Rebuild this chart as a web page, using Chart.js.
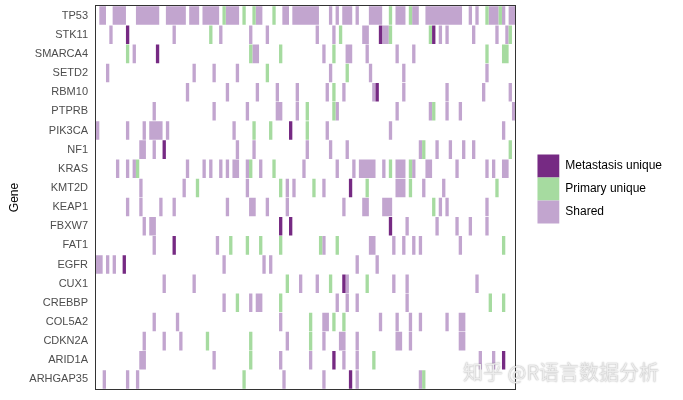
<!DOCTYPE html>
<html>
<head>
<meta charset="utf-8">
<script src="https://cdn.jsdelivr.net/npm/chart.js@4.4.0/dist/chart.umd.min.js"></script>
<style>
body { margin: 0; background: #fff; }
#wrap { width: 683px; height: 400px; }
</style>
</head>
<body>
<div id="wrap"><canvas id="oncoprint"></canvas></div>
<script>
// genes, top to bottom
var genes = ["TP53", "STK11", "SMARCA4", "SETD2", "RBM10", "PTPRB", "PIK3CA", "NF1", "KRAS", "KMT2D",
    "KEAP1", "FBXW7", "FAT1", "EGFR", "CUX1", "CREBBP", "COL5A2", "CDKN2A", "ARID1A", "ARHGAP35"];
var nSamples = 126;

// sample columns (0..125) per gene, one list for each alteration type
var sharedCols = [
    [1,2,5,6,7,8,12,13,14,15,16,17,18,21,22,23,24,25,26,28,29,30,32,33,34,35,36,39,40,41,42,48,49,56,57,
     59,60,61,62,63,64,65,66,70,72,74,75,76,78,82,83,84,85,90,91,92,95,96,99,100,101,102,103,104,105,106,
     107,108,109,112,114,118,119,120,122,124,125],
    [4,23,37,46,51,66,71,80,81,86,87,103,105,113,120,123],
    [11,47,48,68,75,76,81,90,95],
    [3,29,35,42,70,82,92,117],
    [27,39,48,54,60,69,74,83,92,105,116,124],
    [17,35,45,54,55,60,72,90,100,105,109,125],
    [0,9,14,16,17,18,19,21,41,69,88,122],
    [13,14,17,42,47,63,70,75,97,102,106,110,113],
    [6,9,11,27,32,34,37,39,41,42,45,49,62,72,77,79,80,81,82,83,86,90,91,92,95,99,100,108,117,119,122,123],
    [13,26,45,57,59,68,90,91,92,98,104],
    [9,13,19,23,39,46,47,51,57,74,80,81,86,87,88,103,105,117],
    [14,16,17,93,102,108,112,117],
    [17,36,68,82,83,89,92,95,97,109],
    [0,1,3,5,38,50,52,78,84],
    [20,29,61,66,75,89,93,114],
    [38,46,48,49,72,75,78,93],
    [17,24,55,68,69,85,90,94,97,105,109,110],
    [14,20,25,57,68,73,74,78,90,91,94,109,110],
    [13,14,35,55,64,74,78,115,119],
    [2,9,12,56,68,78,97]
];
var primaryCols = [
    [38,44,47,53,88,94,117,121],
    [34,73,88,100,124],
    [9,46,55,71,117,122,123],
    [51,75],
    [71],
    [63,71,101],
    [47,52,63],
    [98,124],
    [12,46,53,88,94],
    [30,55,65,81,94,120],
    [101],
    [],
    [40,45,49,55,67,72,122],
    [],
    [57,70,81],
    [42,55,118,122],
    [64,71,74],
    [33,46,64],
    [46,83],
    [44,98]
];
var metaCols = [
    [], [9,85,101], [18], [], [84], [], [58], [20], [], [76],
    [], [55,58,88], [23], [8], [74], [], [], [], [71,122], [76]
];

var typeLabels = ["Metastasis unique", "Primary unique", "Shared"];
var typeColors = ["#762A83", "#A6DBA0", "#C2A5CF"];

// merge neighbouring columns into [start, end] runs
function toRuns(cols) {
    var runs = [];
    cols.forEach(function (c) {
        var last = runs[runs.length - 1];
        if (last && last[1] === c) last[1] = c + 1;
        else runs.push([c, c + 1]);
    });
    return runs;
}

var datasets = [];
[metaCols, primaryCols, sharedCols].forEach(function (lists, t) {
    var runs = lists.map(toRuns);
    var depth = Math.max.apply(null, runs.map(function (r) { return r.length; }));
    for (var k = 0; k < depth; k++) {
        datasets.push({
            label: typeLabels[t],
            data: runs.map(function (r) { return r[k] || null; }),
            backgroundColor: typeColors[t],
            borderWidth: 0,
            grouped: false,
            barPercentage: 1,
            categoryPercentage: 0.97
        });
    }
});

var panelBorder = {
    id: 'panelBorder',
    afterLayout: function (chart) {
        // move the guide off the panel and lift it a little, like ggplot does
        chart.legend.left += 22;
        chart.legend.right += 22;
        chart.legend.top -= 17;
    },
    afterDatasetsDraw: function (chart) {
        var a = chart.chartArea, ctx = chart.ctx;
        ctx.save();
        ctx.strokeStyle = '#333';
        ctx.lineWidth = 1;
        ctx.strokeRect(Math.round(a.left) - 0.5, Math.round(a.top) - 0.5, Math.round(a.right - a.left) + 1, Math.round(a.bottom - a.top) + 1);
        ctx.restore();
    },
    afterDraw: function (chart) {
        var ctx = chart.ctx;
        ctx.save();
        ctx.font = '20px "Noto Sans CJK SC"';
        ctx.textBaseline = 'middle';
        ctx.shadowColor = 'rgba(0,0,0,0.4)';
        ctx.shadowBlur = 1.5;
        ctx.fillStyle = '#ececec';
        ctx.fillText('知乎 @R语言数据分析', 463, 372);
        ctx.restore();
    }
};

var ctx = document.getElementById('oncoprint').getContext('2d');
var chart = new Chart(ctx, {
    type: 'bar',
    data: {
        labels: genes,
        datasets: datasets
    },
    options: {
        indexAxis: 'y',
        responsive: true,
        maintainAspectRatio: false,
        animation: false,
        layout: { padding: { top: 6, right: 33, bottom: 11, left: 7 } },
        scales: {
            x: {
                type: 'linear',
                min: 0,
                max: nSamples,
                display: false
            },
            y: {
                grid: { display: false, drawTicks: false },
                border: { display: false },
                ticks: {
                    padding: 8,
                    color: '#4D4D4D',
                    font: { family: 'Liberation Sans, Arial, sans-serif', size: 11 }
                },
                title: {
                    display: true,
                    text: 'Gene',
                    color: '#000',
                    padding: 0,
                    font: { family: 'Liberation Sans, Arial, sans-serif', size: 12 }
                },
                afterFit: function (scale) {
                    scale.width = 89;
                    scale.paddingTop = 0;
                    scale.paddingBottom = 0;
                }
            }
        },
        plugins: {
            tooltip: { enabled: false },
            legend: {
                position: 'right',
                onClick: null,
                labels: {
                    boxWidth: 22,
                    boxHeight: 23,
                    padding: 0,
                    color: '#000',
                    font: { family: 'Liberation Sans, Arial, sans-serif', size: 12 },
                    generateLabels: function () {
                        return typeLabels.map(function (t, i) {
                            return { text: t, fillStyle: typeColors[i], strokeStyle: typeColors[i], lineWidth: 0, datasetIndex: i };
                        });
                    }
                }
            }
        }
    },
    plugins: [panelBorder]
});
</script>
</body>
</html>
